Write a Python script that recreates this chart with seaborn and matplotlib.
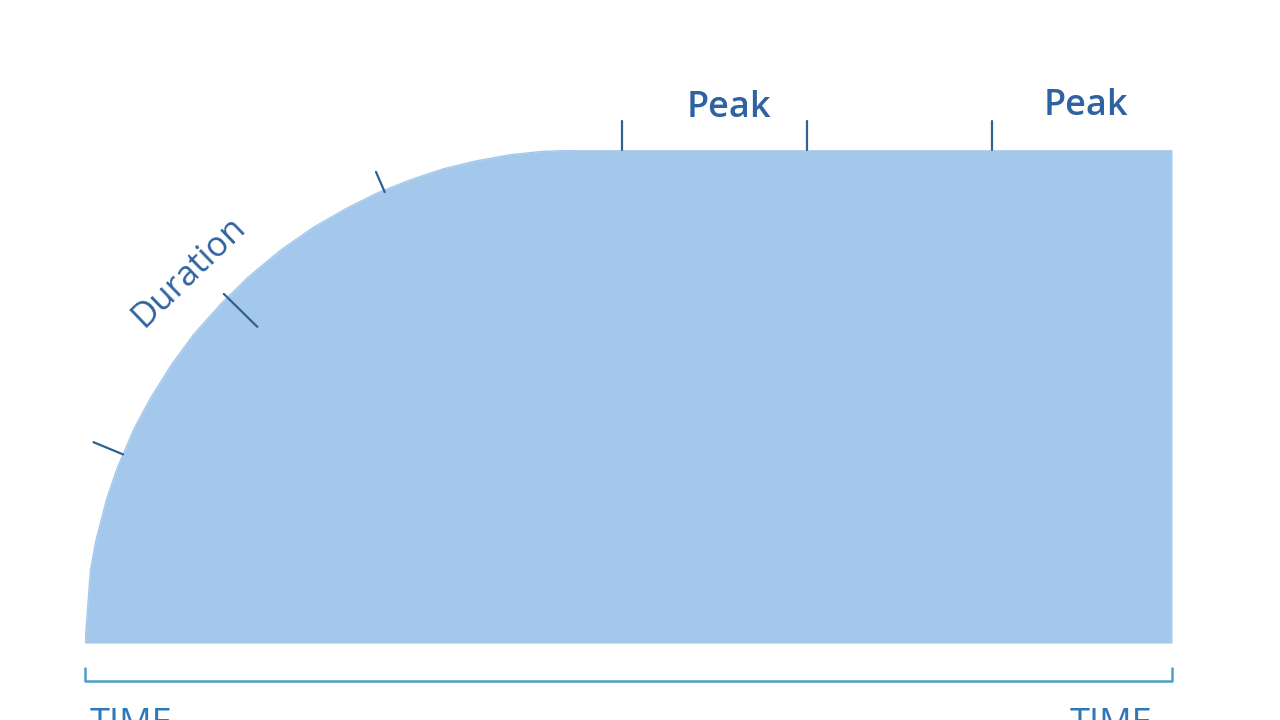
#!/usr/bin/env python3
"""Area chart: a rounded rise to a flat peak, with duration / peak markers."""

import matplotlib

matplotlib.use("Agg")
import matplotlib.pyplot as plt
import numpy as np
import pandas as pd
import seaborn as sns

# curve (time 0..100, level 0..100)
TIME = [0, 0.5, 1, 2, 3, 4.5, 6, 8, 10, 12.5, 15, 18, 21, 24, 27, 30, 33, 36,
        39, 42, 45.5, 100]
LEVEL = [0, 14.8, 20.8, 29.3, 35.7, 43.4, 49.6, 56.6, 62.6, 68.8, 74.2, 79.7,
         84.3, 88.1, 91.4, 94.0, 96.2, 97.8, 99.0, 99.7, 100, 100]

# markers along the rising edge: time, outward px, inward px
CURVE_TICK_TIME = [3.5, 13.1, 27.5]
CURVE_TICK_OUT = [32, 5, 20]
CURVE_TICK_IN = [0, 42, 2]

# markers on the plateau
PEAK_TICK_TIME = [49.4, 66.4, 83.4]
PEAK_LABEL_TIME = [59.2, 92.1]
PEAK_LABEL_LEVEL = [108.6, 109.0]
PEAK_LABELS = ["Peak", "Peak"]

DURATION_LABEL = "Duration"
AXIS_LABEL = "TIME"

FILL = "#A3C8EB"
TICK = "#2C6394"
TEXT = "#2F62A0"
AXIS = "#4A9FC8"

W, H = 1280, 720


def main() -> None:
    sns.set_theme(style="white")
    plt.rcParams["font.family"] = ["Open Sans", "DejaVu Sans"]

    df = pd.DataFrame({"time": TIME, "level": LEVEL})

    fig = plt.figure(figsize=(W / 100, H / 100), dpi=100)
    ax = fig.add_axes([85 / W, 0, (1172 - 85) / W, 570 / H])
    ax.set_xlim(0, 100)
    ax.set_ylim(-15.6, 100)
    ax.axis("off")

    ax.fill_between(df["time"], 0, df["level"], color=FILL, linewidth=0)
    sns.lineplot(data=df, x="time", y="level", color=FILL, linewidth=1,
                 sort=False, ax=ax)

    # ticks normal to the rising edge, sized in pixels
    centre = ax.transData.transform((45.5, 0))
    for t, out, inn in zip(CURVE_TICK_TIME, CURVE_TICK_OUT, CURVE_TICK_IN):
        lv = np.interp(t, TIME, LEVEL)
        p = ax.transData.transform((t, lv))
        n = (p - centre) / np.linalg.norm(p - centre)
        a, b = p + n * out, p - n * inn
        fig.add_artist(plt.Line2D([a[0], b[0]], [a[1], b[1]], transform=None,
                                  color=TICK, linewidth=1.6))

    for t in PEAK_TICK_TIME:
        ax.plot([t, t], [100, 105.9], color=TICK, linewidth=1.6, clip_on=False)

    for t, lv, lab in zip(PEAK_LABEL_TIME, PEAK_LABEL_LEVEL, PEAK_LABELS):
        ax.text(t, lv, lab, ha="center", va="center", fontsize=26,
                fontweight="semibold", color=TEXT, clip_on=False)

    ax.text(9.6, 75.3, DURATION_LABEL, ha="center", va="center", fontsize=25,
            rotation=44, rotation_mode="anchor", color=TEXT)

    # time axis below the area
    ax.plot([0, 0, 100, 100], [-5.1, -7.7, -7.7, -5.1], color=AXIS,
            linewidth=1.8, clip_on=False)
    ax.text(0.4, -13.0, AXIS_LABEL, ha="left", va="top", fontsize=26,
            color="#2E78B8", clip_on=False)
    ax.text(98.2, -13.0, AXIS_LABEL, ha="right", va="top", fontsize=26,
            color="#2E78B8", clip_on=False)

    fig.savefig("out.png", dpi=100, facecolor="white")
    plt.close(fig)


if __name__ == "__main__":
    main()
